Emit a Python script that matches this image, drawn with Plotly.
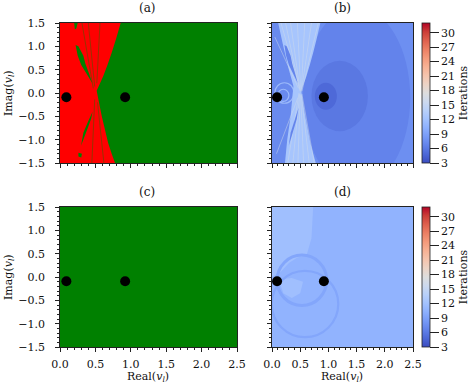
import plotly.graph_objects as go
from plotly.colors import sample_colorscale

# ---------------- data ----------------
x_range = [0.0, 2.5]
y_range = [-1.5, 1.5]
roots_x = [0.09, 0.92]
roots_y = [-0.09, -0.09]
cbar_ticks = [3, 6, 9, 12, 15, 18, 21, 24, 27, 30]
iter_min, iter_max = 3, 32

# panel (a): basin of the left root (red) inside the green basin
a_red_x = [0.0, 0.857, 0.79, 0.73, 0.67, 0.61, 0.518, 0.55, 0.59, 0.68, 0.73, 0.777, 0.0]
a_red_y = [1.5, 1.5, 1.15, 0.86, 0.6, 0.36, 0.05, -0.2, -0.5, -1.07, -1.3, -1.5, -1.5]
lens1_x = [0.22, 0.25, 0.30, 0.38, 0.457, 0.41, 0.36, 0.33, 0.26]
lens1_y = [1.03, 0.80, 0.60, 0.40, 0.21, 0.42, 0.62, 0.80, 1.00]
lens2_x = [0.47, 0.44, 0.38, 0.297, 0.33, 0.40, 0.46]
lens2_y = [-0.32, -0.55, -0.80, -1.13, -0.85, -0.60, -0.40]
blob1_x = [0.26, 0.31, 0.30, 0.26]
blob1_y = [-1.28, -1.30, -1.38, -1.36]
blob2_x = [0.20, 0.25, 0.23, 0.21]
blob2_y = [1.50, 1.50, 1.38, 1.36]
a_streak_x0 = [0.49, 0.52, 0.49, 0.53, 0.47]
a_streak_y0 = [0.14, 0.21, -0.14, -0.2, 0.1]
a_streak_x1 = [0.40, 0.565, 0.45, 0.62, 0.31]
a_streak_y1 = [1.5, 1.5, -1.5, -1.5, 1.5]

# panel (b): iteration counts
b_bg_iter = 7.6
b_left_x = [0.0, 0.11, 0.2, 0.3, 0.38, 0.36, 0.33, 0.27, 0.23, 0.0]
b_left_y = [1.5, 1.5, 1.0, 0.5, 0.15, -0.1, -0.5, -1.0, -1.5, -1.5]
b_left_iter = 7.2
b_fan_x = [0.11, 0.857, 0.79, 0.73, 0.67, 0.61, 0.518, 0.55, 0.59, 0.68, 0.73, 0.777,
           0.23, 0.27, 0.33, 0.36, 0.38, 0.3, 0.2]
b_fan_y = [1.5, 1.5, 1.15, 0.86, 0.6, 0.36, 0.05, -0.2, -0.5, -1.07, -1.3, -1.5,
           -1.5, -1.0, -0.5, -0.1, 0.15, 0.5, 1.0]
b_fan_iter = 12.4
b_lens_iter = 6.8
b_oval_cx = [1.5, 1.2, 0.955]
b_oval_cy = [-0.1, -0.065, -0.07]
b_oval_rx = [0.95, 0.5, 0.195]
b_oval_ry = [1.94, 0.755, 0.29]
b_oval_iter = [6.7, 5.9, 4.9]
b_streak_x0 = [0.50, 0.49, 0.50, 0.51, 0.52, 0.52, 0.53, 0.48, 0.49, 0.50, 0.51, 0.52, 0.53, 0.47, 0.46]
b_streak_y0 = [0.05, 0.08, 0.04, 0.06, 0.05, 0.03, 0.04, 0.0, -0.02, -0.04, -0.03, -0.05, -0.02, 0.1, -0.1]
b_streak_x1 = [0.16, 0.24, 0.33, 0.45, 0.58, 0.70, 0.82, 0.28, 0.37, 0.46, 0.56, 0.66, 0.75, 0.05, 0.08]
b_streak_y1 = [1.5, 1.5, 1.5, 1.5, 1.5, 1.5, 1.5, -1.5, -1.5, -1.5, -1.5, -1.5, -1.5, 1.2, -1.3]
b_streak_iter = 16.0
b_loop_cx = [0.22, 0.2]
b_loop_cy = [0.0, -0.05]
b_loop_rx = [0.17, 0.1]
b_loop_ry = [0.22, 0.13]
b_loop_iter = 12.5

# panel (d): iteration counts
d_bg_iter = 10.6
d_light1_x = [0.0, 0.73, 0.70, 0.615, 0.45, 0.3, 0.15, 0.0]
d_light1_y = [1.5, 1.5, 0.83, 0.47, 0.42, 0.3, 0.1, 0.0]
d_light2_x = [0.12, 0.35, 0.55, 0.50, 0.35, 0.2]
d_light2_y = [-0.05, -0.02, -0.10, -0.35, -0.45, -0.35]
d_light_iter = 11.8
d_ring_cx = [0.53, 0.585]
d_ring_cy = [-0.07, -0.58]
d_ring_rx = [0.44, 0.59]
d_ring_ry = [0.54, 0.71]
d_ring_iter = 9.4
d_ring_width = [3.0, 2.2]

# ---------------- styling ----------------
coolwarm = [
    [0.0, "#3b4cc0"], [0.0625, "#4d68d7"], [0.125, "#6282ea"], [0.1875, "#779af7"],
    [0.25, "#8db0fe"], [0.3125, "#a3c2fe"], [0.375, "#b8d0f9"], [0.4375, "#ccd9ee"],
    [0.5, "#dddddd"], [0.5625, "#ecd3c5"], [0.625, "#f5c4ad"], [0.6875, "#f7b194"],
    [0.75, "#f49a7b"], [0.8125, "#ec7f63"], [0.875, "#de604d"], [0.9375, "#cb3e38"],
    [1.0, "#b40426"],
]


def icol(v):
    return sample_colorscale(coolwarm, [(v - iter_min) / (iter_max - iter_min)])[0]


RED = "#ff0000"
GREEN = "#008000"
FONT = "DejaVu Serif"
W, H = 474, 385


def fx(px):
    return px / W


def fy(py):
    return 1 - py / H


def path(xs, ys):
    return "M " + " L ".join(f"{x},{y}" for x, y in zip(xs, ys)) + " Z"


fig = go.Figure()
shapes = []


def rect(ax, color):
    shapes.append(dict(type="rect", xref=f"x{ax}", yref=f"y{ax}", x0=x_range[0], x1=x_range[1],
                       y0=y_range[0], y1=y_range[1], fillcolor=color, line_width=0, layer="below"))


def poly(ax, xs, ys, color):
    shapes.append(dict(type="path", xref=f"x{ax}", yref=f"y{ax}", path=path(xs, ys),
                       fillcolor=color, line_width=0, layer="below"))


def ellipse(ax, cx, cy, rx, ry, fill=None, line=None, lw=0, opacity=1.0):
    d = dict(type="circle", xref=f"x{ax}", yref=f"y{ax}", x0=cx - rx, x1=cx + rx,
             y0=cy - ry, y1=cy + ry, layer="below", opacity=opacity)
    if fill:
        d["fillcolor"] = fill
    if line:
        d["line"] = dict(color=line, width=lw)
    else:
        d["line_width"] = 0
    shapes.append(d)


def segs(x0, y0, x1, y1):
    xs, ys = [], []
    for a, b, c, d in zip(x0, y0, x1, y1):
        xs += [a, c, None]
        ys += [b, d, None]
    return xs, ys


# panel (a)
rect("", GREEN)
poly("", a_red_x, a_red_y, RED)
for xs, ys in [(lens1_x, lens1_y), (lens2_x, lens2_y), (blob1_x, blob1_y), (blob2_x, blob2_y)]:
    poly("", xs, ys, GREEN)
sx, sy = segs(a_streak_x0, a_streak_y0, a_streak_x1, a_streak_y1)
fig.add_trace(go.Scatter(x=sx, y=sy, mode="lines", line=dict(color=GREEN, width=0.8),
                         opacity=0.5, xaxis="x", yaxis="y", hoverinfo="skip", showlegend=False))

# panel (b)
rect("2", icol(b_bg_iter))
for cx, cy, rx, ry, v in zip(b_oval_cx, b_oval_cy, b_oval_rx, b_oval_ry, b_oval_iter):
    ellipse("2", cx, cy, rx, ry, fill=icol(v))
poly("2", b_left_x, b_left_y, icol(b_left_iter))
poly("2", b_fan_x, b_fan_y, icol(b_fan_iter))
for cx, cy, rx, ry in zip(b_loop_cx, b_loop_cy, b_loop_rx, b_loop_ry):
    ellipse("2", cx, cy, rx, ry, line=icol(b_loop_iter), lw=1.2, opacity=0.8)
sx, sy = segs(b_streak_x0, b_streak_y0, b_streak_x1, b_streak_y1)
fig.add_trace(go.Scatter(x=sx, y=sy, mode="lines", line=dict(color=icol(b_streak_iter), width=0.8),
                         opacity=0.6, xaxis="x2", yaxis="y2", hoverinfo="skip", showlegend=False))
for lx, ly in [(lens1_x, lens1_y), (lens2_x, lens2_y)]:
    fig.add_trace(go.Scatter(x=lx + [lx[0]], y=ly + [ly[0]], mode="lines", fill="toself",
                             fillcolor=icol(b_lens_iter), line_width=0, xaxis="x2", yaxis="y2",
                             hoverinfo="skip", showlegend=False))

# panel (c)
rect("3", GREEN)

# panel (d)
rect("4", icol(d_bg_iter))
poly("4", d_light1_x, d_light1_y, icol(d_light_iter))
poly("4", d_light2_x, d_light2_y, icol(d_light_iter))
for cx, cy, rx, ry, w in zip(d_ring_cx, d_ring_cy, d_ring_rx, d_ring_ry, d_ring_width):
    ellipse("4", cx, cy, rx, ry, line=icol(d_ring_iter), lw=w)

# roots
for ax in ["", "2", "3", "4"]:
    fig.add_trace(go.Scatter(x=roots_x, y=roots_y, mode="markers",
                             marker=dict(color="black", size=10), xaxis=f"x{ax}", yaxis=f"y{ax}",
                             hoverinfo="skip", showlegend=False, cliponaxis=False))

# colorbars
for ax, cy in [("2", 93), ("4", 277)]:
    fig.add_trace(go.Scatter(
        x=[-1, -1], y=[0, 0], mode="markers", xaxis=f"x{ax}", yaxis=f"y{ax}",
        marker=dict(color=[iter_min, iter_max], colorscale=coolwarm, cmin=iter_min, cmax=iter_max,
                    showscale=True,
                    colorbar=dict(x=fx(422), xanchor="left", y=fy(cy), yanchor="middle",
                                  len=140 / H, lenmode="fraction", thickness=8, thicknessmode="pixels",
                                  xpad=0, ypad=0, tickvals=cbar_ticks, ticks="outside", ticklen=9,
                                  tickwidth=0.8, tickcolor="#222", outlinewidth=0.8, outlinecolor="#222",
                                  tickfont=dict(family=FONT, size=11, color="#111"),
                                  title=dict(text="Iterations", side="right",
                                             font=dict(family=FONT, size=11, color="#111")))),
        hoverinfo="skip", showlegend=False))

axis_common = dict(range=x_range, showline=True, mirror=True, linecolor="#222", linewidth=0.8,
                   ticks="outside", ticklen=4, tickwidth=0.8, tickcolor="#222", showgrid=False,
                   zeroline=False, tick0=0, dtick=0.5, tickformat=".1f", automargin=False,
                   minor=dict(dtick=0.1, ticks="outside", ticklen=2, tickwidth=0.6, tickcolor="#222",
                              showgrid=False),
                   tickfont=dict(family=FONT, size=11, color="#111"), fixedrange=True)
yax_common = dict(axis_common, range=y_range)

xa, xb = [fx(60), fx(237)], [fx(272), fx(413)]
ytop, ybot = [fy(163), fy(23)], [fy(347), fy(207)]

fig.update_layout(
    width=W, height=H, margin=dict(l=0, r=0, t=0, b=0),
    paper_bgcolor="white", plot_bgcolor="white", showlegend=False,
    font=dict(family=FONT, size=11, color="#111"),
    xaxis=dict(axis_common, domain=xa, anchor="y", showticklabels=False),
    yaxis=dict(yax_common, domain=ytop, anchor="x", ticklabelstandoff=8),
    xaxis2=dict(axis_common, domain=xb, anchor="y2", showticklabels=False),
    yaxis2=dict(yax_common, domain=ytop, anchor="x2", showticklabels=False),
    xaxis3=dict(axis_common, domain=xa, anchor="y3", ticklabelstandoff=3),
    yaxis3=dict(yax_common, domain=ybot, anchor="x3", ticklabelstandoff=8),
    xaxis4=dict(axis_common, domain=xb, anchor="y4", ticklabelstandoff=3),
    yaxis4=dict(yax_common, domain=ybot, anchor="x4", showticklabels=False),
    shapes=shapes,
)

ann = []
for txt, px, py in [("(a)", 147, 8), ("(b)", 342, 8), ("(c)", 147, 192), ("(d)", 342, 192)]:
    ann.append(dict(text=txt, x=fx(px), y=fy(py), xref="paper", yref="paper", showarrow=False,
                    xanchor="center", yanchor="middle", font=dict(family=FONT, size=12, color="#111")))
for py in [93, 277]:
    ann.append(dict(text="Imag(<i>v<sub>l</sub></i>)", x=fx(9), y=fy(py), xref="paper", yref="paper",
                    showarrow=False, textangle=-90, xanchor="center", yanchor="middle",
                    font=dict(family=FONT, size=11, color="#111")))
for px in [148, 342]:
    ann.append(dict(text="Real(<i>v<sub>l</sub></i>)", x=fx(px), y=fy(377), xref="paper", yref="paper",
                    showarrow=False, xanchor="center", yanchor="middle",
                    font=dict(family=FONT, size=11, color="#111")))
fig.update_layout(annotations=ann)

fig.write_html("out.html", config={"displayModeBar": False},
               post_script="document.body.style.margin='0px'; document.body.style.overflow='hidden';")
